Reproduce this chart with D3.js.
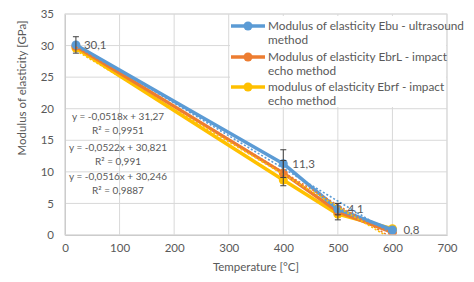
<!DOCTYPE html>
<html>
<head>
<meta charset="utf-8">
<script src="https://cdn.jsdelivr.net/npm/d3@7"></script>
<style>
  body { margin: 0; background: #fff; }
  svg text { font-family: Lato, "Liberation Sans", sans-serif; fill: #595959; }
</style>
</head>
<body>
<svg id="chart" width="474" height="282"></svg>
<script>
// temperatures [°C]
const temps = [20, 400, 500, 600];

// modulus of elasticity [GPa] per method
const ebu  = [30.1, 11.3, 4.1, 0.8];
const ebrL = [29.9, 9.8, 3.7, 0.4];
const ebrf = [29.6, 8.7, 3.3, 1.0];

// error bar half-widths
const ebuErr  = [1.3, 2.2, 0.9, 0];
const ebrLErr = [0, 2.0, 1.3, 0];

// trendline coefficients y = a*x + b
const trends = [
  { a: -0.0518, b: 31.27,  label: "y = -0,0518x + 31,27",  r2: "R² = 0,9951" },
  { a: -0.0522, b: 30.821, label: "y = -0,0522x + 30,821", r2: "R² = 0,991" },
  { a: -0.0516, b: 30.246, label: "y = -0,0516x + 30,246", r2: "R² = 0,9887" }
];

const seriesNames = [
  ["Modulus of elasticity Ebu - ultrasound", "method"],
  ["Modulus of elasticity EbrL - impact", "echo method"],
  ["modulus of elasticity Ebrf - impact", "echo method"]
];
const colors = ["#5B9BD5", "#ED7D31", "#FFC000"];
const xTicks = [0, 100, 200, 300, 400, 500, 600, 700];
const yTicks = [0, 5, 10, 15, 20, 25, 30, 35];

const svg = d3.select("#chart");
const m = { left: 65, right: 447, top: 14, bottom: 235 };

const x = d3.scaleLinear().domain([0, 700]).range([m.left, m.right]);
const y = d3.scaleLinear().domain([0, 35]).range([m.bottom, m.top]);

// grid
svg.append("g").selectAll("line").data(yTicks).enter().append("line")
  .attr("x1", m.left).attr("x2", m.right)
  .attr("y1", d => y(d)).attr("y2", d => y(d))
  .attr("stroke", "#d9d9d9").attr("stroke-width", 1);
svg.append("g").selectAll("line").data(xTicks).enter().append("line")
  .attr("y1", m.top).attr("y2", m.bottom)
  .attr("x1", d => x(d)).attr("x2", d => x(d))
  .attr("stroke", "#d9d9d9").attr("stroke-width", 1);

// axes
const xAxis = svg.append("g").attr("transform", `translate(0,${m.bottom})`)
  .call(d3.axisBottom(x).tickValues(xTicks).tickSize(0).tickPadding(9));
const yAxis = svg.append("g").attr("transform", `translate(${m.left},0)`)
  .call(d3.axisLeft(y).tickValues(yTicks).tickSize(0).tickPadding(11));
[xAxis, yAxis].forEach(g => {
  g.select(".domain").attr("stroke", "#bfbfbf");
  g.selectAll("text").attr("font-size", 11.5).attr("font-family", "Lato, sans-serif").attr("fill", "#595959");
});

svg.append("text").attr("x", 256).attr("y", 271)
  .attr("text-anchor", "middle").attr("font-size", 11.5)
  .text("Temperature [°C]");
svg.append("text").attr("transform", "translate(26,88) rotate(-90)")
  .attr("text-anchor", "middle").attr("font-size", 11.5)
  .text("Modulus of elasticity [GPa]");

svg.append("clipPath").attr("id", "plotclip").append("rect")
  .attr("x", m.left).attr("y", m.top)
  .attr("width", m.right - m.left).attr("height", m.bottom - m.top);

const all = [ebu, ebrL, ebrf];
const line = d3.line().x(d => x(d[0])).y(d => y(d[1]));

// series lines
const plot = svg.append("g").attr("clip-path", "url(#plotclip)");
[2, 1, 0].forEach(i => {
  const pts = temps.map((t, j) => [t, all[i][j]]);
  plot.append("path").attr("d", line(pts))
    .attr("fill", "none").attr("stroke", colors[i]).attr("stroke-width", 3.5)
    .attr("stroke-linejoin", "round");
  plot.selectAll(null).data(pts).enter().append("circle")
    .attr("cx", d => x(d[0])).attr("cy", d => y(d[1])).attr("r", 4.5)
    .attr("fill", colors[i]);
});

// trendlines
trends.forEach((t, i) => {
  plot.append("line")
    .attr("x1", x(20)).attr("y1", y(t.a * 20 + t.b))
    .attr("x2", x(600)).attr("y2", y(t.a * 600 + t.b))
    .attr("stroke", colors[i]).attr("stroke-width", 1.6)
    .attr("stroke-dasharray", "2,2");
});

// error bars
function errBars(vals, errs) {
  temps.forEach((t, j) => {
    if (!errs[j]) return;
    const g = svg.append("g").attr("stroke", "#404040").attr("stroke-width", 1);
    const lo = y(vals[j] - errs[j]), hi = y(vals[j] + errs[j]), cx = x(t);
    g.append("line").attr("x1", cx).attr("x2", cx).attr("y1", lo).attr("y2", hi);
    g.append("line").attr("x1", cx - 3).attr("x2", cx + 3).attr("y1", lo).attr("y2", lo);
    g.append("line").attr("x1", cx - 3).attr("x2", cx + 3).attr("y1", hi).attr("y2", hi);
  });
}
errBars(ebu, ebuErr);
errBars(ebrL, ebrLErr);

// data labels
const labelX = [8, 9, 10, 11];
temps.forEach((t, j) => {
  svg.append("text").attr("x", x(t) + labelX[j]).attr("y", y(ebu[j]) + 4)
    .attr("font-size", 11.5).attr("fill", "#404040")
    .text(ebu[j].toFixed(1).replace(".", ","));
});

// trend equations
const eqY = [120, 151, 180];
trends.forEach((t, i) => {
  svg.append("text").attr("x", 118).attr("y", eqY[i])
    .attr("text-anchor", "middle").attr("font-size", 10).attr("fill", "#404040")
    .text(t.label);
  svg.append("text").attr("x", 118).attr("y", eqY[i] + 13.5)
    .attr("text-anchor", "middle").attr("font-size", 10).attr("fill", "#404040")
    .text(t.r2);
});

// plot border
svg.append("rect").attr("x", m.left).attr("y", m.top)
  .attr("width", m.right - m.left).attr("height", m.bottom - m.top)
  .attr("fill", "none").attr("stroke", "#d9d9d9");

// legend
const leg = svg.append("g");
leg.append("rect").attr("x", 230).attr("y", 16).attr("width", 216).attr("height", 91)
  .attr("fill", "#fff");
const legY = [26, 57, 87];
seriesNames.forEach((n, i) => {
  const g = leg.append("g").attr("transform", `translate(231,${legY[i]})`);
  g.append("line").attr("x1", 0).attr("x2", 34).attr("stroke", colors[i]).attr("stroke-width", 3.5);
  g.append("circle").attr("cx", 17).attr("r", 4.5).attr("fill", colors[i]);
  n.forEach((s, k) => {
    g.append("text").attr("x", 37).attr("y", 4 + k * 13.5)
      .attr("font-size", 11.8).attr("fill", "#595959").text(s);
  });
});
</script>
</body>
</html>
